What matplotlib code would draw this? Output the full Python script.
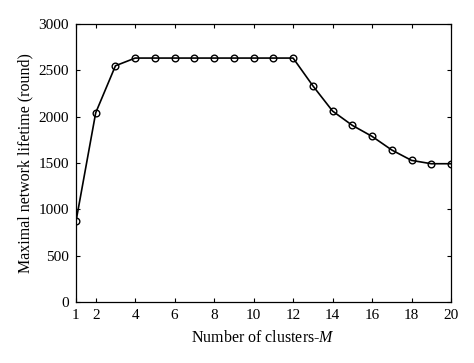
import matplotlib
matplotlib.use("Agg")
import matplotlib.pyplot as plt

clusters = list(range(1, 21))
lifetime = [870, 2042, 2549, 2632, 2632, 2632, 2632, 2632, 2632, 2632, 2632, 2632,
            2333, 2060, 1906, 1787, 1640, 1528, 1492, 1492]
xticks = [1, 2, 4, 6, 8, 10, 12, 14, 16, 18, 20]
yticks = [0, 500, 1000, 1500, 2000, 2500, 3000]

plt.rcParams['font.family'] = ['Liberation Serif', 'DejaVu Serif']
plt.rcParams['mathtext.fontset'] = 'custom'
plt.rcParams['mathtext.it'] = 'Liberation Serif:italic'

fig = plt.figure(figsize=(4.74, 3.63), dpi=100)
ax = fig.add_axes([0.1603, 0.168, 0.7912, 0.766])
ax.plot(clusters, lifetime, color='black', linewidth=1.2, marker='o',
        markersize=4.8, markerfacecolor='none', markeredgecolor='black',
        markeredgewidth=1.0)
ax.set_xlim(1, 20)
ax.set_ylim(0, 3000)
ax.set_xticks(xticks)
ax.set_yticks(yticks)
ax.tick_params(direction='in', top=True, right=True, labelsize=11, length=3, width=0.8, pad=5)
for s in ax.spines.values():
    s.set_linewidth(0.9)
ax.set_xlabel('Number of clusters-$M$', fontsize=11.5, labelpad=6)
ax.set_ylabel('Maximal network lifetime (round)', fontsize=11.5, labelpad=4)
fig.savefig('out.png', dpi=100)
